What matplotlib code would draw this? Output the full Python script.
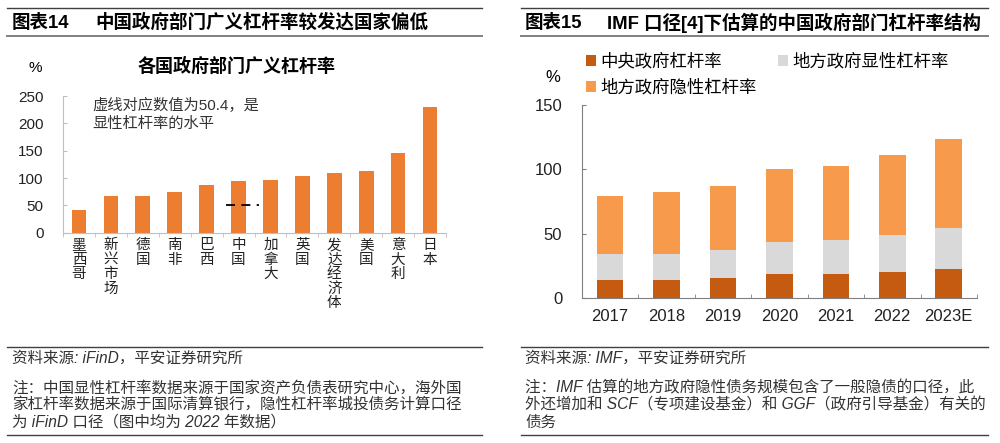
import matplotlib
matplotlib.use("Agg")
import matplotlib.pyplot as plt
from matplotlib.lines import Line2D
import numpy as np

plt.rcParams['font.family'] = ['Liberation Sans', 'Noto Sans CJK SC', 'DejaVu Sans']

# left chart data (2022)
countries = ['墨西哥', '新兴市场', '德国', '南非', '巴西', '中国', '加拿大',
             '英国', '发达经济体', '美国', '意大利', '日本']
leverage = [41.5, 66.5, 67.7, 73.8, 86.6, 93.9, 95.7, 103.0, 109.8, 113.4, 145.7, 229.9]
china_explicit = 50.4

# right chart data
years = ['2017', '2018', '2019', '2020', '2021', '2022', '2023E']
central = [14.2, 14.2, 15.5, 18.6, 18.6, 20.7, 22.5]
local_explicit = [20.2, 20.2, 22.0, 24.8, 26.9, 28.7, 32.0]
local_hidden = [44.7, 48.0, 49.6, 56.9, 56.8, 62.0, 68.8]

ORANGE = '#ED7D31'
C_CENTRAL = '#C55A11'
C_EXPL = '#D9D9D9'
C_HIDDEN = '#F79A4B'
AXC = '#BFBFBF'
W, H = 1000, 443

fig = plt.figure(figsize=(W / 100, H / 100), dpi=100)


def fx(px):
    return px / W


def fy(py):
    return 1 - py / H


def hline(y, x0, x1, color, lw):
    fig.add_artist(Line2D([fx(x0), fx(x1)], [fy(y), fy(y)], color=color, lw=lw,
                          transform=fig.transFigure))


# ---- headers and footers ----
for x0, x1 in [(7, 482), (521, 988)]:
    hline(8, x0, x1, '#404040', 1.0)
    hline(36, x0, x1, '#808080', 1.4)
    hline(347, x0, x1, '#404040', 1.0)
    hline(435, x0, x1, '#404040', 1.0)

fig.text(fx(12), fy(22.5), '图表14', fontsize=13.3, fontweight='bold', va='center', ha='left')
fig.text(fx(95), fy(22.5), '中国政府部门广义杠杆率较发达国家偏低', fontsize=13.3,
         fontweight='bold', va='center', ha='left')
fig.text(fx(525), fy(22.5), '图表15', fontsize=13.3, fontweight='bold', va='center', ha='left')
fig.text(fx(607), fy(22.5), 'IMF 口径[4]下估算的中国政府部门杠杆率结构', fontsize=13.3,
         fontweight='bold', va='center', ha='left')

fig.text(fx(12), fy(358), '资料来源: iFinD，平安证券研究所', fontsize=11.2, style='italic',
         va='center', color='#333333')
left_note = ['注：中国显性杠杆率数据来源于国家资产负债表研究中心，海外国',
             '家杠杆率数据来源于国际清算银行，隐性杠杆率城投债务计算口径',
             '为 iFinD 口径（图中均为 2022 年数据）']
for i, s in enumerate(left_note):
    fig.text(fx(12), fy(388 + 17 * i), s, fontsize=11.2, style='italic', va='center', color='#333333')

fig.text(fx(525), fy(358), '资料来源: IMF，平安证券研究所', fontsize=11.2, style='italic',
         va='center', color='#333333')
right_note = ['注：IMF 估算的地方政府隐性债务规模包含了一般隐债的口径，此',
              '外还增加和 SCF（专项建设基金）和 GGF（政府引导基金）有关的',
              '债务']
for i, s in enumerate(right_note):
    fig.text(fx(525), fy(388 + 17 * i), s, fontsize=11.2, style='italic', va='center', color='#333333')

# ---- left chart ----
ax1 = fig.add_axes([fx(63), fy(232.7), fx(446 - 63), fy(96) - fy(232.7)])
x = np.arange(len(countries))
ax1.bar(x, leverage, width=0.46, color=ORANGE)
ax1.plot([4.6, 5.65], [china_explicit, china_explicit], color='black', lw=1.3,
         linestyle=(0, (5, 3.5)))
ax1.set_xlim(-0.5, len(countries) - 0.5)
ax1.set_ylim(0, 250)
ax1.set_yticks([0, 50, 100, 150, 200, 250])
ax1.set_xticks(x)
ax1.set_xticklabels(['\n'.join(c) for c in countries], fontsize=10.5, linespacing=1.05,
                    va='top', color='#222222')
ax1.set_xticks(np.arange(-0.5, len(countries)), minor=True)
ax1.tick_params(axis='x', which='major', length=0, pad=4)
ax1.tick_params(axis='x', which='minor', length=3, color=AXC, direction='out')
ax1.tick_params(axis='y', length=3, direction='in', color=AXC, labelsize=11, pad=14,
                labelcolor='#222222')
for s in ['top', 'right']:
    ax1.spines[s].set_visible(False)
for s in ['left', 'bottom']:
    ax1.spines[s].set_color(AXC)
ax1.set_facecolor('none')

fig.text(fx(237), fy(67), '各国政府部门广义杠杆率', fontsize=13, fontweight='bold',
         ha='center', va='center')
fig.text(fx(35), fy(68), '%', fontsize=11, ha='center', va='center')
fig.text(fx(92), fy(105), '虚线对应数值为50.4，是', fontsize=11, ha='left', va='center',
         color='#333333')
fig.text(fx(92), fy(124), '显性杠杆率的水平', fontsize=11, ha='left', va='center',
         color='#333333')

# ---- right chart ----
ax2 = fig.add_axes([fx(581.7), fy(298.3), fx(977 - 581.7), fy(104.8) - fy(298.3)])
xr = np.arange(len(years))
b1 = ax2.bar(xr, central, width=0.47, color=C_CENTRAL, label='中央政府杠杆率')
b2 = ax2.bar(xr, local_explicit, width=0.47, bottom=central, color=C_EXPL,
             label='地方政府显性杠杆率')
bot = np.array(central) + np.array(local_explicit)
b3 = ax2.bar(xr, local_hidden, width=0.47, bottom=bot, color=C_HIDDEN,
             label='地方政府隐性杠杆率')
ax2.set_xlim(-0.5, len(years) - 0.5)
ax2.set_ylim(0, 150)
ax2.set_yticks([0, 50, 100, 150])
ax2.set_xticks(xr)
ax2.set_xticklabels(years, fontsize=12, color='#222222')
ax2.set_xticks(np.arange(-0.5, len(years)), minor=True)
ax2.tick_params(axis='x', which='major', length=0, pad=8)
ax2.tick_params(axis='x', which='minor', length=3, color='#808080', direction='in')
ax2.tick_params(axis='y', length=3, direction='in', color='#808080', labelsize=12, pad=14,
                labelcolor='#222222')
for s in ['top', 'right']:
    ax2.spines[s].set_visible(False)
for s in ['left', 'bottom']:
    ax2.spines[s].set_color('#808080')
ax2.set_facecolor('none')

fig.text(fx(553), fy(77), '%', fontsize=12, ha='center', va='center')
fig.legend(handles=[b1, b3, b2], ncol=2, frameon=False, fontsize=12.5,
           loc='upper left', bbox_to_anchor=(fx(586), fy(53)),
           handlelength=0.6, handleheight=0.6, handletextpad=0.25,
           columnspacing=1.2, labelspacing=0.52, borderaxespad=0, borderpad=0)

fig.savefig('out.png', dpi=100)
